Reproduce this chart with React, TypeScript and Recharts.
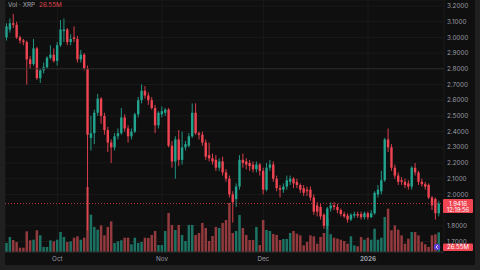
import React from 'react';
import { ComposedChart, Bar, XAxis, YAxis, CartesianGrid, ReferenceLine } from 'recharts';

// Daily candles, 16 Sep 2025 – 22 Jan 2026
const opens = [3.00,3.05,3.09,3.08,3.00,2.98,2.97,2.86,2.83,2.93,2.74,2.79,2.81,2.87,2.89,2.85,2.95,3.04,3.05,2.97,3.00,2.99,2.86,2.89,2.80,
  2.36,2.39,2.52,2.61,2.50,2.41,2.33,2.30,2.37,2.39,2.49,2.42,2.37,2.40,2.51,2.60,2.66,2.63,2.60,2.55,2.44,2.51,2.52,2.54,2.31,
  2.21,2.35,2.22,2.30,2.31,2.37,2.52,2.39,2.38,2.33,2.25,2.23,2.22,2.17,2.21,2.14,2.10,2.00,1.97,2.05,2.22,2.21,2.20,2.19,2.16,
  2.19,2.15,2.03,2.17,2.19,2.10,2.04,2.03,2.05,2.08,2.10,2.08,2.06,2.04,2.03,2.03,1.98,1.93,1.92,1.87,1.80,1.91,1.93,1.92,1.90,
  1.875,1.865,1.84,1.865,1.875,1.875,1.855,1.88,1.855,1.88,2.00,2.02,2.09,2.35,2.30,2.17,2.12,2.09,2.08,2.07,2.05,2.17,2.14,2.08,
  2.065,2.06,1.98,1.97,1.88];
const highs = [3.09,3.12,3.15,3.10,3.01,2.99,2.98,2.88,2.99,2.94,2.80,2.84,2.88,2.95,2.93,2.97,3.11,3.12,3.06,3.02,3.07,3.01,2.92,2.90,2.82,
  2.50,2.54,2.64,2.62,2.52,2.43,2.35,2.39,2.42,2.55,2.51,2.44,2.42,2.52,2.62,2.70,2.69,2.65,2.62,2.57,2.53,2.56,2.55,2.55,2.34,
  2.37,2.41,2.40,2.34,2.39,2.58,2.58,2.40,2.40,2.35,2.33,2.26,2.25,2.23,2.24,2.16,2.12,2.02,2.07,2.25,2.26,2.23,2.22,2.21,2.21,
  2.20,2.17,2.20,2.22,2.21,2.12,2.06,2.07,2.12,2.12,2.11,2.10,2.07,2.06,2.05,2.05,2.00,1.95,1.94,1.88,1.92,1.95,1.95,1.94,1.91,
  1.89,1.88,1.88,1.89,1.89,1.89,1.89,1.89,1.90,2.02,2.06,2.15,2.36,2.42,2.32,2.19,2.14,2.11,2.10,2.09,2.18,2.20,2.15,2.10,
  2.08,2.07,1.99,1.98,1.96];
const lows = [2.98,3.03,3.06,2.99,2.96,2.95,2.70,2.80,2.82,2.73,2.71,2.77,2.80,2.86,2.84,2.82,2.94,2.97,2.95,2.95,2.97,2.84,2.84,2.79,1.77,
  2.28,2.32,2.50,2.45,2.38,2.27,2.20,2.28,2.35,2.38,2.40,2.33,2.35,2.39,2.49,2.58,2.61,2.57,2.54,2.39,2.42,2.49,2.50,2.30,2.17,
  2.10,2.18,2.19,2.28,2.30,2.36,2.38,2.35,2.31,2.22,2.21,2.19,2.15,2.15,2.12,2.08,1.98,1.82,1.92,2.03,2.17,2.16,2.15,2.14,2.14,
  2.12,2.00,2.02,2.15,2.08,2.02,1.98,2.01,2.03,2.06,2.04,2.04,2.01,1.99,1.99,1.96,1.87,1.86,1.84,1.78,1.78,1.89,1.90,1.88,1.86,
  1.85,1.82,1.83,1.85,1.85,1.84,1.84,1.84,1.85,1.87,1.98,2.00,2.08,2.27,2.15,2.10,2.06,2.06,2.04,2.03,2.03,2.12,2.06,2.05,
  2.03,1.97,1.90,1.84,1.86];
const closes = [3.07,3.09,3.08,3.00,2.98,2.97,2.86,2.83,2.93,2.74,2.79,2.81,2.87,2.89,2.85,2.95,3.05,3.05,2.97,2.99,2.99,2.86,2.89,2.80,2.38,
  2.39,2.52,2.61,2.50,2.41,2.33,2.30,2.37,2.39,2.49,2.42,2.37,2.40,2.51,2.60,2.66,2.63,2.60,2.55,2.44,2.52,2.53,2.54,2.31,2.21,
  2.35,2.22,2.30,2.32,2.37,2.52,2.39,2.38,2.33,2.24,2.23,2.21,2.17,2.21,2.14,2.10,2.00,1.95,2.05,2.22,2.20,2.19,2.18,2.16,2.19,
  2.15,2.03,2.17,2.19,2.10,2.04,2.03,2.05,2.09,2.10,2.07,2.06,2.03,2.01,2.02,1.98,1.89,1.89,1.86,1.80,1.91,1.93,1.92,1.90,1.875,
  1.86,1.84,1.87,1.875,1.865,1.855,1.88,1.855,1.88,2.01,2.03,2.09,2.35,2.30,2.17,2.12,2.08,2.08,2.06,2.05,2.17,2.14,2.08,2.065,
  2.05,1.98,1.93,1.88,1.9416];
// volume in millions
const volumes = [12.2,20.3,16.2,13.5,5.8,5.8,27.9,15.8,16.6,29.3,22.5,6.8,6.8,15.8,14.4,16.6,27.0,20.3,13.5,14.4,19.3,21.2,16.6,19.3,87.8,
  50.4,33.8,30.1,36.0,22.5,33.8,41.4,12.2,14.4,15.8,19.3,19.3,10.4,19.3,12.2,13.5,19.3,18.9,23.0,28.4,9.5,9.5,28.4,52.7,36.5,
  29.7,36.5,23.0,14.9,36.5,36.5,23.0,25.7,39.2,32.4,14.9,21.6,33.8,32.4,39.2,43.2,66.2,25.7,28.4,50.0,32.4,23.0,16.2,16.2,33.8,
  9.5,43.2,29.7,28.4,24.3,23.0,16.2,17.6,17.6,25.7,28.4,24.7,22.5,9.0,13.5,22.5,21.2,11.2,20.3,25.7,45.0,23.9,19.3,18.0,16.6,
  14.9,11.2,21.2,9.0,7.7,20.3,16.6,19.3,16.6,31.5,16.6,19.3,47.3,58.5,29.3,36.0,30.1,22.5,11.2,18.0,27.0,27.0,22.5,13.5,10.4,
  6.8,22.5,23.9,26.55];

const monthTickIdx = [15, 46, 76, 107];
const monthLabels = ['Oct', 'Nov', 'Dec', '2026'];
const priceTicks = [1.7, 1.8, 2.0, 2.1, 2.2, 2.3, 2.4, 2.5, 2.6, 2.7, 2.8, 2.9, 3.0, 3.1, 3.2];
const markedLevel = 2.8;
const lastPrice = 1.9416;
const lastTime = '12:19:56';
const lastVolumeLabel = '26.55M';
const legendTitle = 'Vol · XRP';

const PRICE_DOMAIN: [number, number] = [1.6331, 3.2382];
const VOL_DOMAIN: [number, number] = [0, 340.2];

const GREEN = '#22a38e';
const RED = '#ef4452';
const VOL_GREEN = '#1c7364';
const VOL_RED = '#923a3d';
const LABEL = '#9a9da5';
const FONT = 'Inter, Roboto, "DejaVu Sans", sans-serif';

const data: any[] = closes.map((c, i) => ({
  i,
  o: opens[i],
  h: highs[i],
  l: lows[i],
  c,
  range: [lows[i], highs[i]],
  v: volumes[i],
}));
data.push({ i: closes.length, range: null, v: null });

const Candle = (props: any) => {
  const { x, y, width, height, payload } = props;
  if (!payload || payload.o == null) return null;
  const { o, h, l, c } = payload;
  const top = Math.min(y, y + height);
  const hh = Math.abs(height);
  const ratio = h - l > 0 ? hh / (h - l) : 0;
  const cx = x + width / 2;
  const yO = top + (h - o) * ratio;
  const yC = top + (h - c) * ratio;
  const color = c >= o ? GREEN : RED;
  const bTop = Math.min(yO, yC);
  const bH = Math.max(Math.abs(yO - yC), 0.8);
  return (
    <g>
      <line x1={cx} x2={cx} y1={top} y2={top + hh} stroke={color} strokeWidth={0.9} />
      <rect x={cx - 1.2} y={bTop} width={2.4} height={bH} fill={color} />
    </g>
  );
};

const VolBar = (props: any) => {
  const { x, y, width, height, payload } = props;
  if (!payload || payload.o == null) return null;
  const top = Math.min(y, y + height);
  const hh = Math.abs(height);
  const cx = x + width / 2;
  const color = payload.c >= payload.o ? VOL_GREEN : VOL_RED;
  return <rect x={cx - 1.25} y={top} width={2.5} height={hh} fill={color} />;
};

const PriceTick = (props: any) => {
  const { x, y, payload } = props;
  return (
    <text x={x} y={y} dy={2.2} textAnchor="start" fill={LABEL} fontSize={6.3} fontFamily={FONT}>
      {Number(payload.value).toFixed(4)}
    </text>
  );
};

const TimeTick = (props: any) => {
  const { x, y, payload } = props;
  const k = monthTickIdx.indexOf(payload.value);
  const label = k >= 0 ? monthLabels[k] : '';
  return (
    <text x={x} y={y} dy={9} textAnchor="middle" fill={LABEL} fontSize={6.3} fontFamily={FONT}
      fontWeight={label === '2026' ? 700 : 400}>
      {label}
    </text>
  );
};

const PriceTag = (props: any) => {
  const vb = props.viewBox || {};
  const bx = vb.x + vb.width - 1;
  const by = vb.y;
  return (
    <g>
      <rect x={bx} y={by - 4.5} width={30} height={14} rx={1} fill={RED} />
      <text x={bx + 15} y={by + 2} textAnchor="middle" fill="#ffffff" fontSize={6.1} fontFamily={FONT}>
        {lastPrice.toFixed(4)}
      </text>
      <text x={bx + 15} y={by + 8.3} textAnchor="middle" fill="#ffffff" fontSize={5.8} fontFamily={FONT}>
        {lastTime}
      </text>
    </g>
  );
};

const VolTag = (props: any) => {
  const vb = props.viewBox || {};
  const bx = vb.x + vb.width - 1;
  const by = vb.y;
  return (
    <g>
      <circle cx={bx - 6} cy={by - 5} r={3.2} fill="#5b3fd6" />
      <path d={`M ${bx - 5} ${by - 6.8} L ${bx - 7} ${by - 5} L ${bx - 5} ${by - 3.2}`} stroke="#ffffff" strokeWidth={0.8} fill="none" />
      <rect x={bx} y={by - 8.5} width={30} height={7.5} rx={1} fill={RED} />
      <text x={bx + 15} y={by - 2.6} textAnchor="middle" fill="#ffffff" fontSize={6.1} fontFamily={FONT}>
        {lastVolumeLabel}
      </text>
    </g>
  );
};

export default function App() {
  return (
    <div style={{ position: 'absolute', left: 0, top: 0, width: 480, height: 270, background: '#202020', overflow: 'hidden' }}>
      <div style={{ position: 'absolute', left: 5, top: 0, width: 470, height: 265, background: '#0f0f0f' }}>
        <ComposedChart
          width={470}
          height={265}
          data={data}
          margin={{ top: 0, right: 0, bottom: 0, left: 0 }}
          barGap={-3}
          barCategoryGap={0}
        >
          <CartesianGrid yAxisId="price" stroke="#1a1a1a" strokeWidth={1} />
          <XAxis
            dataKey="i"
            type="category"
            ticks={monthTickIdx}
            interval={0}
            height={13}
            tick={<TimeTick />}
            tickLine={false}
            tickSize={0}
            tickMargin={0}
            axisLine={{ stroke: '#2a2a2a' }}
          />
          <YAxis
            yAxisId="price"
            orientation="right"
            domain={PRICE_DOMAIN}
            ticks={priceTicks}
            interval={0}
            allowDataOverflow
            width={31}
            tick={<PriceTick />}
            tickLine={false}
            tickSize={0}
            tickMargin={3}
            axisLine={false}
          />
          <YAxis yAxisId="vol" hide domain={VOL_DOMAIN} allowDataOverflow />
          <ReferenceLine yAxisId="price" y={markedLevel} stroke="#2b2b2b" strokeWidth={1} />
          <Bar yAxisId="vol" dataKey="v" barSize={3} shape={<VolBar />} isAnimationActive={false} />
          <Bar yAxisId="price" dataKey="range" barSize={3} shape={<Candle />} isAnimationActive={false} />
          <ReferenceLine
            yAxisId="price"
            y={lastPrice}
            stroke={RED}
            strokeOpacity={0.75}
            strokeDasharray="1 2"
            label={<PriceTag />}
          />
          <ReferenceLine yAxisId="vol" y={0} stroke="none" strokeOpacity={0} label={<VolTag />} />
        </ComposedChart>
        <div
          style={{
            position: 'absolute',
            left: 3,
            top: 1,
            fontFamily: FONT,
            fontSize: 6.3,
            lineHeight: '8px',
            whiteSpace: 'nowrap',
          }}
        >
          <span style={{ color: '#a3a6ae' }}>{legendTitle}</span>
          <span style={{ color: '#e0454f', marginLeft: 4 }}>{lastVolumeLabel}</span>
        </div>
      </div>
    </div>
  );
}
